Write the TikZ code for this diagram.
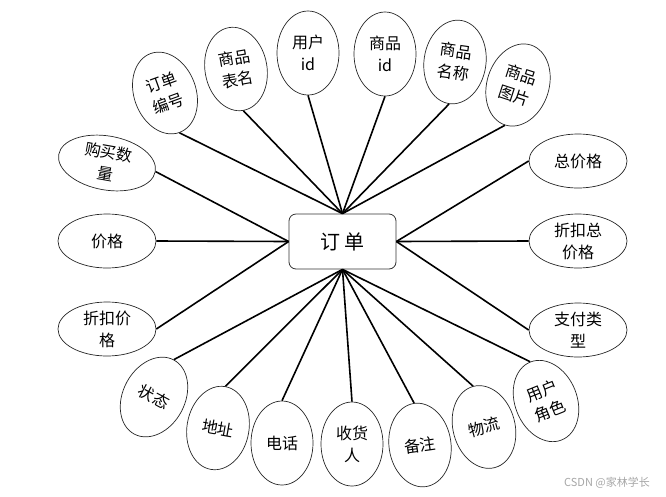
\documentclass[tikz,border=0pt]{standalone}
\usepackage{fontspec}
\setmainfont{Noto Sans CJK SC}
\usetikzlibrary{shapes.geometric}

\begin{document}
\begin{tikzpicture}[x=1pt, y=1pt,
  entity/.style={draw=black!80, fill=white, rounded corners=7pt, line width=0.8pt,
               minimum width=107pt, minimum height=55pt, inner sep=0pt,
               font=\fontsize{20}{24}\selectfont},
  attrv/.style={draw=black!85, ellipse, line width=0.7pt, inner sep=0pt,
                minimum width=62pt, minimum height=84pt, align=center,
                font=\fontsize{16}{22}\selectfont},
  attrh/.style={attrv, minimum width=98pt, minimum height=54pt},
  link/.style={line width=1.6pt, black},
  wmark/.style={font=\fontsize{11}{13}\selectfont, text=black!35}
]
  \useasboundingbox (0,0) rectangle (666,-496);

  %% Entity in the middle
  \node[entity] (order) at (342.5,-241.5) {订\,单};

  %% Attributes above
  \node[attrv, rotate=20]  (ddbh) at (165,-93)  {订单\\编号};
  \node[attrv, rotate=10]  (spbm) at (236,-69)  {商品\\表名};
  \node[attrv]             (yhid) at (308,-53)  {用户\\id};
  \node[attrv]             (spid) at (385,-54)  {商品\\id};
  \node[attrv, rotate=-8]  (spmc) at (455,-62)  {商品\\名称};
  \node[attrv, rotate=-18] (sptp) at (518,-85)  {商品\\图片};

  %% Attributes left and right
  \node[attrh, rotate=-10] (gmsl)  at (107,-163) {购买数\\量};
  \node[attrh]             (jg)    at (107,-241) {价格};
  \node[attrh]             (zkjg)  at (107,-329) {折扣价\\格};
  \node[attrh]             (zjg)   at (578,-161) {总价格};
  \node[attrh]             (zkzjg) at (578,-241) {折扣总\\价格};
  \node[attrh]             (zflx)  at (578,-330) {支付类\\型};

  %% Attributes below
  \node[attrv, rotate=-28] (zt)   at (154,-397) {状态};
  \node[attrv, rotate=-10] (dz)   at (218,-428) {地址};
  \node[attrv]             (dh)   at (282,-443) {电话};
  \node[attrv]             (shr)  at (352,-444) {收货\\人};
  \node[attrv, rotate=8]   (bz)   at (420,-445) {备注};
  \node[attrv, rotate=15]  (wl)   at (484,-427) {物流};
  \node[attrv, rotate=22]  (yhjs) at (546,-401) {用户\\角色};

  %% Top links
  \draw[link] (ddbh.south) -- (order.north);
  \draw[link] (spbm.south) -- (order.north);
  \draw[link] (yhid.south) -- (order.north);
  \draw[link] (spid.south) -- (order.north);
  \draw[link] (spmc.south) -- (order.north);
  \draw[link] (sptp.south) -- (order.north);

  %% Side links
  \draw[link] (gmsl.east)  -- (order.west);
  \draw[link] (jg.east)    -- (order.west);
  \draw[link] (zkjg.east)  -- (order.west);
  \draw[link] (zjg.west)   -- (order.east);
  \draw[link] (zkzjg.west) -- (order.east);
  \draw[link] (zflx.west)  -- (order.east);

  %% Bottom links
  \draw[link] (zt.north)   -- (order.south);
  \draw[link] (dz.north)   -- (order.south);
  \draw[link] (dh.north)   -- (order.south);
  \draw[link] (shr.north)  -- (order.south);
  \draw[link] (bz.north)   -- (order.south);
  \draw[link] (wl.north)   -- (order.south);
  \draw[link] (yhjs.north) -- (order.south);

  %% Watermark
  \node[wmark] (csdn) at (607,-483) {CSDN @家林学长};
\end{tikzpicture}
\end{document}
